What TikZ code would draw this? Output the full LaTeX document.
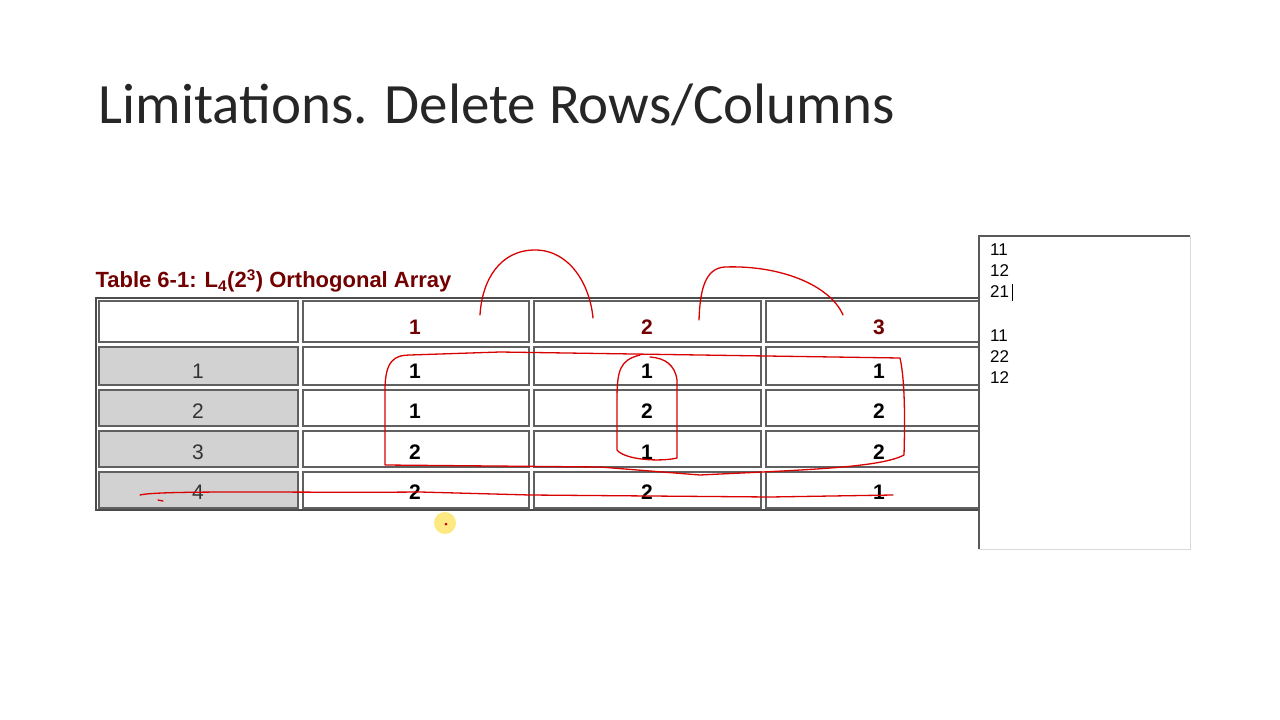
\documentclass[tikz,border=0pt]{standalone}
\usepackage{fontspec}
\setmainfont{Liberation Sans}
\newfontfamily\titlefont{Carlito}
\begin{document}
\begin{tikzpicture}[x=1pt,y=-1pt,
  cellbox/.style={draw=gray!75!black,line width=1.2pt},
  grey/.style={cellbox,fill=gray!35},
  hd/.style={text=red!45!black,font=\bfseries\fontsize{21}{24}\selectfont},
  num/.style={font=\bfseries\fontsize{21}{24}\selectfont},
  rn/.style={font=\fontsize{21}{24}\selectfont,text=black!80},
  ink/.style={draw=red!85!black,line width=1.3pt,line cap=round,line join=round}]
\useasboundingbox (0,0) rectangle (1280,720);
\fill[white] (0,0) rectangle (1280,720);
\node[anchor=west,font=\titlefont\fontsize{57}{64}\selectfont,text=black!85] (title) at (95,105) {Limitations. Delete Rows/Columns};
\node[anchor=west,font=\bfseries\fontsize{22}{26}\selectfont,text=red!45!black] (cap) at (92,281) {Table 6-1: L\textsubscript{4}(2\textsuperscript{3}) Orthogonal Array};
% table outer
\draw[draw=gray!60!black,line width=1.5pt] (96,298) rectangle (985,510);
\def\xs{{96,300,531,763,985}}
\def\ys{{298,344,387,428,469,510}}
\foreach \r in {0,...,4}{
 \foreach \c in {0,...,3}{
  \pgfmathsetmacro\xa{\xs[\c]+3}\pgfmathsetmacro\xb{\xs[\c+1]-2}
  \pgfmathsetmacro\ya{\ys[\r]+3}\pgfmathsetmacro\yb{\ys[\r+1]-2}
  \ifnum\r>0 \ifnum\c=0
    \draw[grey] (\xa,\ya) rectangle (\xb,\yb);
  \else \draw[cellbox] (\xa,\ya) rectangle (\xb,\yb); \fi
  \else \draw[cellbox] (\xa,\ya) rectangle (\xb,\yb); \fi
 }}
\node[hd] (h1) at (415,327) {1};
\node[hd] (h2) at (647,327) {2};
\node[hd] (h3) at (879,327) {3};
\foreach \r/\y/\a/\b/\c in {1/371/1/1/1,2/411/1/2/2,3/452/2/1/2,4/492/2/2/1}{
  \node[rn] (r\r) at (198,\y) {\r};
  \node[num] (a\r) at (415,\y) {\a};
  \node[num] (b\r) at (647,\y) {\b};
  \node[num] (c\r) at (879,\y) {\c};
}
% side box
\fill[white] (979,236) rectangle (1190,549);
\draw[gray!70!black,line width=1.5pt] (979,549) -- (979,236) -- (1190,236);
\draw[gray!30,line width=0.8pt] (1190,236) -- (1190,549) -- (979,549);
\foreach \t/\y in {11/250,12/271,21/292,11/336,22/357,12/378}
  \node[anchor=west,font=\fontsize{17}{19}\selectfont,inner sep=0] at (990,\y) {\t};
\draw[black,line width=0.6pt] (1012,284) -- (1012,301);
% red ink
\draw[ink] (480,315) .. controls (482,280) and (500,250) .. (535,250) .. controls (570,250) and (590,285) .. (593,318);
\draw[ink] (699,320) .. controls (700,290) and (705,268) .. (725,267) .. controls (780,265) and (830,285) .. (843,315);
\draw[ink] (385,465) -- (385,390) .. controls (385,360) and (395,355) .. (410,355) -- (500,352) -- (900,358) .. controls (905,380) and (905,420) .. (904,455) .. controls (880,468) and (800,470) .. (700,475) -- (600,467) -- (385,465);
\draw[ink] (640,355) .. controls (620,360) and (617,370) .. (617,400) -- (617,450) .. controls (625,460) and (660,462) .. (677,458) -- (677,380) .. controls (675,365) and (665,358) .. (650,357);
\draw[ink] (140,495) .. controls (160,490) and (300,493) .. (420,492) -- (530,495) -- (770,497) -- (893,495);
\draw[ink] (158,500) -- (163,501);
% cursor
\fill[yellow!70!orange,opacity=0.5] (445,523) circle (11);
\fill[red!80!black] (446,524) circle (1.5);
\end{tikzpicture}
\end{document}
